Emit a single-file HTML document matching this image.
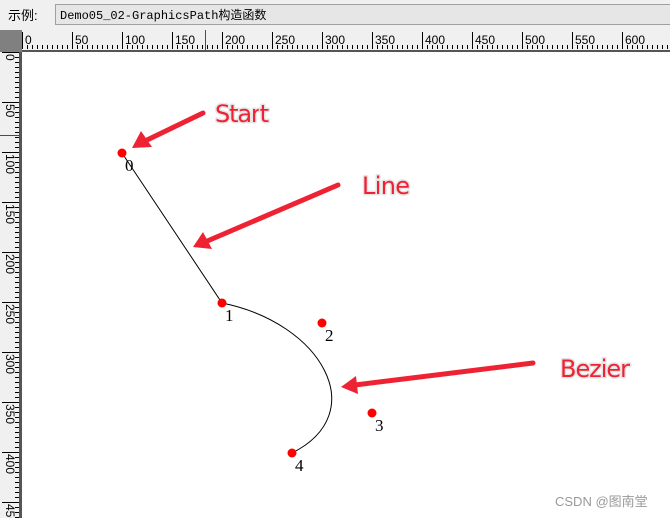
<!DOCTYPE html>
<html><head><meta charset="utf-8"><style>
body{margin:0;width:670px;height:518px;overflow:hidden;background:#f0f0f0;font-family:"Liberation Sans","Noto Sans CJK SC",sans-serif}
</style></head><body>
<svg width="670" height="518" xmlns="http://www.w3.org/2000/svg" style="position:absolute;left:0;top:0">
<defs>
<pattern id="mt" x="22" y="0" width="5" height="518" patternUnits="userSpaceOnUse"><rect x="0" y="45" width="1" height="4" fill="#000"/></pattern>
<pattern id="Mt" x="22" y="0" width="50" height="518" patternUnits="userSpaceOnUse"><rect x="0" y="32" width="1" height="17" fill="#000"/></pattern>
<pattern id="ml" x="0" y="52" width="518" height="5" patternUnits="userSpaceOnUse"><rect x="15" y="0" width="4" height="1" fill="#000"/></pattern>
<pattern id="Ml" x="0" y="52" width="518" height="50" patternUnits="userSpaceOnUse"><rect x="2" y="0" width="17" height="1" fill="#000"/></pattern>
</defs>
<rect width="670" height="30" fill="#f0f0f0"/>
<text x="8" y="20" font-size="13" fill="#000">示例:</text>
<rect x="55.5" y="4.5" width="620" height="20" fill="#e6e6e6" stroke="#a0a0a0"/>
<text x="60" y="19" font-size="12" font-family="Liberation Mono,'Noto Sans CJK SC',monospace" fill="#000">Demo05_02-GraphicsPath构造函数</text>
<rect x="0" y="30" width="22" height="22" fill="#808080"/>
<rect x="22" y="30" width="648" height="20" fill="#f0f0f0"/>
<rect x="22" y="30" width="648" height="20" fill="url(#mt)"/>
<rect x="22" y="30" width="648" height="20" fill="url(#Mt)"/>
<rect x="22" y="50" width="648" height="2" fill="#555"/>
<rect x="0" y="52" width="20" height="466" fill="#f0f0f0"/>
<rect x="0" y="52" width="20" height="466" fill="url(#ml)"/>
<rect x="0" y="52" width="20" height="466" fill="url(#Ml)"/>
<rect x="19" y="52" width="3" height="466" fill="#555"/>
<rect x="22" y="52" width="648" height="466" fill="#fff"/>
<rect x="205" y="30" width="1" height="20" fill="#f00"/>
<rect x="0" y="135" width="20" height="1" fill="#f00"/>
<g font-size="12" font-family="Liberation Sans,sans-serif" fill="#000">
<text x="25" y="44">0</text><text x="75" y="44">50</text><text x="125" y="44">100</text><text x="175" y="44">150</text><text x="225" y="44">200</text><text x="275" y="44">250</text><text x="325" y="44">300</text><text x="375" y="44">350</text><text x="425" y="44">400</text><text x="475" y="44">450</text><text x="525" y="44">500</text><text x="575" y="44">550</text><text x="625" y="44">600</text>
</g>
<g font-size="12" font-family="Liberation Sans,sans-serif" fill="#000">
<text transform="translate(6,54) rotate(90)">0</text>
<text transform="translate(6,104) rotate(90)">50</text>
<text transform="translate(6,154) rotate(90)">100</text>
<text transform="translate(6,204) rotate(90)">150</text>
<text transform="translate(6,254) rotate(90)">200</text>
<text transform="translate(6,304) rotate(90)">250</text>
<text transform="translate(6,354) rotate(90)">300</text>
<text transform="translate(6,404) rotate(90)">350</text>
<text transform="translate(6,454) rotate(90)">400</text>
<text transform="translate(6,504) rotate(90)">450</text>
</g>
<path d="M122 153 L222 303 C322 323 372 413 292 453" fill="none" stroke="#000" stroke-width="1"/>
<g fill="#f00"><circle cx="122" cy="153" r="4.5"/><circle cx="222" cy="303" r="4.5"/><circle cx="322" cy="323" r="4.5"/><circle cx="372" cy="413" r="4.5"/><circle cx="292" cy="453" r="4.5"/></g>
<g font-size="17" font-family="Liberation Serif,serif" fill="#000">
<text x="125" y="171">0</text><text x="225" y="321">1</text><text x="325" y="341">2</text><text x="375" y="431">3</text><text x="295" y="471">4</text>
</g>
<g stroke="#ee2233" stroke-width="5" stroke-linecap="round" fill="#ee2233">
<line x1="203" y1="113" x2="145" y2="141"/>
<line x1="338" y1="185" x2="205" y2="242"/>
<line x1="533" y1="363" x2="355" y2="385"/>
</g>
<g fill="#ee2233">
<polygon points="132,148 141,131 152,147"/>
<polygon points="193,247 203,232 212,249"/>
<polygon points="341,387 356,376 358,394"/>
</g>
<g font-size="24" fill="#ee2233" stroke="#e4e4e4" stroke-width="3" stroke-linejoin="round" paint-order="stroke" font-family="'DejaVu Sans','Liberation Sans',sans-serif">
<text x="215" y="122" textLength="54">Start</text><text x="362" y="194" textLength="48">Line</text><text x="560" y="377" textLength="70">Bezier</text>
</g>
<text x="555" y="506" font-size="13" fill="#999">CSDN @图南堂</text>
</svg>
</body></html>
